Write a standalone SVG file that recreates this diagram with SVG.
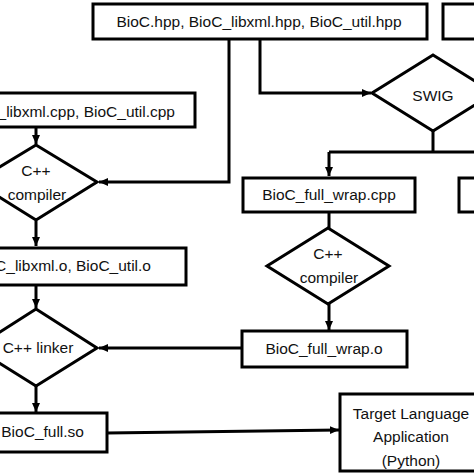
<svg xmlns="http://www.w3.org/2000/svg" width="474" height="474" viewBox="0 0 474 474">
<defs>
<marker id="ah" markerUnits="userSpaceOnUse" markerWidth="10" markerHeight="10" viewBox="0 0 10 10" refX="9" refY="5" orient="auto">
<path d="M0,1 L9,5 L0,9 Z" fill="#000"/>
</marker>
<style>
.box{fill:#fff;stroke:#000;stroke-width:3}
.dia{fill:#fff;stroke:#000;stroke-width:3;stroke-linejoin:miter}
.con{fill:none;stroke:#000;stroke-width:3}
.arr{fill:none;stroke:#000;stroke-width:3;marker-end:url(#ah)}
text{font-family:"Liberation Sans",Arial,sans-serif;font-size:15.5px;fill:#111}
.c{text-anchor:middle}
.e{text-anchor:end}
</style>
</defs>
<rect width="474" height="474" fill="#fff"/>
<g id="connectors">
<polyline class="arr" points="229,39 229,182 99,182"/>
<polyline class="arr" points="260,39 260,93 371,93"/>
<polyline class="con" points="433,131 433,152"/>
<polyline class="con" points="329,152 476,152"/>
<polyline class="arr" points="329,152 329,176"/>
<line class="arr" x1="36" y1="127" x2="36" y2="144"/>
<line class="arr" x1="36" y1="221" x2="36" y2="246"/>
<line class="arr" x1="36" y1="286" x2="36" y2="308"/>
<line class="arr" x1="36" y1="385" x2="36" y2="412"/>
<line class="con" x1="329" y1="212" x2="329" y2="228"/>
<line class="arr" x1="329" y1="304" x2="329" y2="330"/>
<line class="arr" x1="242" y1="348" x2="99" y2="348"/>
<line class="arr" x1="107" y1="433" x2="339" y2="430"/>
</g>
<g id="n-hpp">
<rect class="box" x="93" y="4" width="334" height="35"/>
<text class="c" x="259" y="27">BioC.hpp, BioC_libxml.hpp, BioC_util.hpp</text>
</g>
<g id="n-topright">
<rect class="box" x="443" y="4" width="40" height="35"/>
</g>
<g id="n-swig">
<polygon class="dia" points="433,55 494,93 433,131 372,93"/>
<text class="c" x="433" y="101">SWIG</text>
</g>
<g id="n-cpp">
<rect class="box" x="-10" y="93" width="205" height="34"/>
<text class="e" x="175" y="117">_libxml.cpp, BioC_util.cpp</text>
</g>
<g id="n-compiler1">
<polygon class="dia" points="36,145 97,182 36,220 -25,182"/>
<text class="c" x="36" y="176">C++</text>
<text class="c" x="37" y="200">compiler</text>
</g>
<g id="n-obj">
<rect class="box" x="-10" y="248" width="196" height="37"/>
<text class="e" x="151" y="271">C_libxml.o, BioC_util.o</text>
</g>
<g id="n-linker">
<polygon class="dia" points="36,309 97,348 36,386 -25,348"/>
<text class="c" x="38" y="353">C++ linker</text>
</g>
<g id="n-so">
<rect class="box" x="-10" y="413" width="117" height="39"/>
<text class="e" x="84" y="437">BioC_full.so</text>
</g>
<g id="n-wrapcpp">
<rect class="box" x="243" y="178" width="172" height="34"/>
<text class="c" x="329" y="200">BioC_full_wrap.cpp</text>
</g>
<g id="n-right2">
<rect class="box" x="459" y="178" width="30" height="34"/>
</g>
<g id="n-compiler2">
<polygon class="dia" points="328,228 389,266 328,304 267,266"/>
<text class="c" x="328" y="259">C++</text>
<text class="c" x="329" y="283">compiler</text>
</g>
<g id="n-wrapo">
<rect class="box" x="242" y="331" width="165" height="36"/>
<text class="c" x="324" y="354">BioC_full_wrap.o</text>
</g>
<g id="n-target">
<rect class="box" x="340" y="394" width="145" height="77"/>
<text class="c" x="411" y="419">Target Language</text>
<text class="c" x="411" y="442">Application</text>
<text class="c" x="411" y="466">(Python)</text>
</g>
</svg>
